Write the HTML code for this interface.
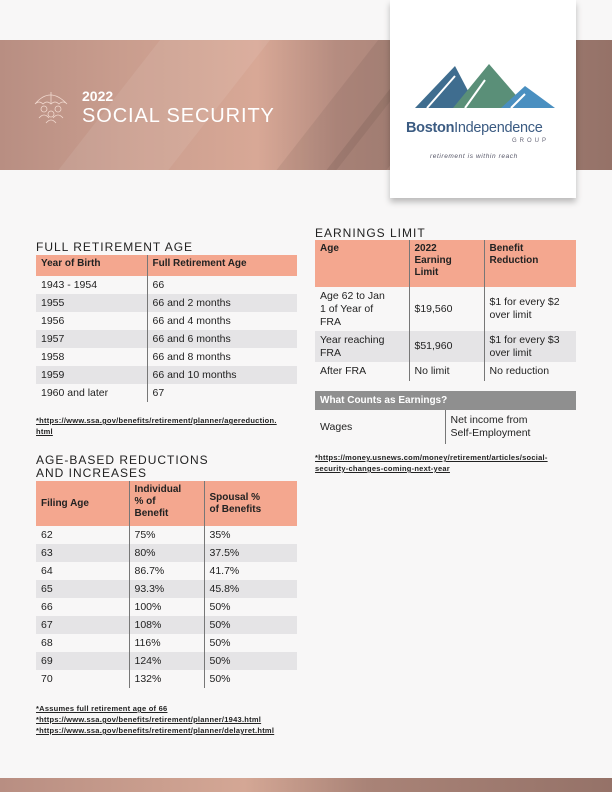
<!DOCTYPE html>
<html><head><meta charset="utf-8"><style>
*{margin:0;padding:0;box-sizing:border-box}
body{width:612px;height:792px;position:relative;overflow:hidden;background:#f8f7f7;font-family:"Liberation Sans",sans-serif;color:#222}
.band{position:absolute;left:0;top:40px;width:612px;height:130px;background:linear-gradient(90deg,#b88e82 0%,#c99d8e 20%,#d8a896 42%,#b58c80 55%,#a27f74 80%,#957268 100%);overflow:hidden}
.foot{position:absolute;left:0;top:778px;width:612px;height:14px;background:linear-gradient(90deg,#b88e82 0%,#d4a795 40%,#a98377 60%,#957268 100%)}
.ttl{position:absolute;color:#fff}
.logo{position:absolute;left:390px;top:0;width:186px;height:198px;background:#fff;box-shadow:0 4px 6px rgba(0,0,0,.25)}
h2{position:absolute;font-weight:normal;font-size:12px;letter-spacing:1px;color:#222;line-height:13px}
table{position:absolute;border-collapse:collapse;font-size:10.5px}
th{background:#f4a78f;text-align:left;font-size:10px;vertical-align:top;padding:3px 5px;line-height:12px}
td{padding:0 5px;height:18px}
td+td,th+th{border-left:1px solid #777}
tr.g td{background:#e5e4e6}
.fn{position:absolute;font-size:7.5px;font-weight:bold;letter-spacing:0.25px;line-height:11px;text-decoration:underline;color:#222}
</style></head><body>
<div class="band">
<div style="position:absolute;left:160px;top:0;width:110px;height:200px;background:rgba(255,255,255,.08);transform:skewX(-38deg);transform-origin:0 0"></div>
<div style="position:absolute;left:300px;top:0;width:60px;height:200px;background:rgba(0,0,0,.06);transform:skewX(-38deg)"></div>
<div style="position:absolute;left:350px;top:0;width:60px;height:200px;background:rgba(0,0,0,.08);transform:skewX(-38deg)"></div>
</div>
<svg style="position:absolute;left:33px;top:88px" width="36" height="36" viewBox="0 0 36 36" fill="none" stroke="#f1d9cf" stroke-width="0.8"><path d="M2 16 Q17 -2 34 16 Q30 12 26 16 Q22 12 18 16 Q14 12 10 16 Q6 12 2 16Z"/><path d="M18 4 V16"/><circle cx="11" cy="21" r="3"/><circle cx="25" cy="21" r="3"/><circle cx="18" cy="26" r="3"/><path d="M6 30 Q11 24 16 30 M20 30 Q25 24 30 30 M13 35 Q18 29 23 35"/></svg>
<div class="ttl" style="left:82px;top:88px;font-size:14px;font-weight:bold">2022</div>
<div class="ttl" style="left:82px;top:105px;font-size:20px;letter-spacing:0.9px">SOCIAL SECURITY</div>
<div class="foot"></div>
<div class="logo">
<svg style="position:absolute;left:25px;top:64px" width="140" height="46" viewBox="0 0 140 46"><polygon points="0,44 40,2 62,44" fill="#3f6d8f"/><polygon points="38,44 74,0 112,44" fill="#5a8f78"/><polygon points="86,44 110,22 140,44" fill="#4a8fc0"/><path d="M12 44 L40 12 M50 44 L70 16 M96 44 L110 30" stroke="#fff" stroke-width="2"/></svg>
<div style="position:absolute;left:16px;top:120px;font-size:14.5px;color:#3b5b82;letter-spacing:-0.3px"><b>Boston</b>Independence</div>
<div style="position:absolute;left:122px;top:138px;font-size:6px;color:#667;letter-spacing:3px">GROUP</div>
<div style="position:absolute;left:40px;top:153px;font-size:6.5px;color:#556;font-style:italic;letter-spacing:0.6px">retirement is within reach</div>
</div>

<h2 style="left:36px;top:241px">FULL RETIREMENT AGE</h2>
<table style="left:36px;top:255px;width:261px">
<tr><th style="width:111px;height:21px">Year of Birth</th><th>Full Retirement Age</th></tr>
<tr><td>1943 - 1954</td><td>66</td></tr>
<tr class="g"><td>1955</td><td>66 and 2 months</td></tr>
<tr><td>1956</td><td>66 and 4 months</td></tr>
<tr class="g"><td>1957</td><td>66 and 6 months</td></tr>
<tr><td>1958</td><td>66 and 8 months</td></tr>
<tr class="g"><td>1959</td><td>66 and 10 months</td></tr>
<tr><td>1960 and later</td><td>67</td></tr>
</table>
<div class="fn" style="left:36px;top:415px">*https://www.ssa.gov/benefits/retirement/planner/agereduction.<br>html</div>

<h2 style="left:36px;top:454px">AGE-BASED REDUCTIONS<br>AND INCREASES</h2>
<table style="left:36px;top:481px;width:261px">
<tr><th style="width:93px;height:45px;vertical-align:middle">Filing Age</th><th style="width:75px">Individual<br>% of<br>Benefit</th><th style="vertical-align:middle">Spousal %<br>of Benefits</th></tr>
<tr><td>62</td><td>75%</td><td>35%</td></tr>
<tr class="g"><td>63</td><td>80%</td><td>37.5%</td></tr>
<tr><td>64</td><td>86.7%</td><td>41.7%</td></tr>
<tr class="g"><td>65</td><td>93.3%</td><td>45.8%</td></tr>
<tr><td>66</td><td>100%</td><td>50%</td></tr>
<tr class="g"><td>67</td><td>108%</td><td>50%</td></tr>
<tr><td>68</td><td>116%</td><td>50%</td></tr>
<tr class="g"><td>69</td><td>124%</td><td>50%</td></tr>
<tr><td>70</td><td>132%</td><td>50%</td></tr>
</table>
<div class="fn" style="left:36px;top:703px">*Assumes full retirement age of 66<br>*https://www.ssa.gov/benefits/retirement/planner/1943.html<br>*https://www.ssa.gov/benefits/retirement/planner/delayret.html</div>

<h2 style="left:315px;top:227px">EARNINGS LIMIT</h2>
<table style="left:315px;top:240px;width:261px;line-height:13px">
<tr><th style="width:94px;height:47px">Age</th><th style="width:75px">2022<br>Earning<br>Limit</th><th>Benefit<br>Reduction</th></tr>
<tr><td style="height:44px">Age 62 to Jan<br>1 of Year of<br>FRA</td><td>$19,560</td><td>$1 for every $2<br>over limit</td></tr>
<tr class="g"><td style="height:31px">Year reaching<br>FRA</td><td>$51,960</td><td>$1 for every $3<br>over limit</td></tr>
<tr><td style="height:19px">After FRA</td><td>No limit</td><td>No reduction</td></tr>
</table>
<div style="position:absolute;left:315px;top:391px;width:261px;height:19px;background:#8f8f8f;color:#fff;font-weight:bold;font-size:10px;padding:4px 5px">What Counts as Earnings?</div>
<table style="left:315px;top:410px;width:261px;line-height:13px">
<tr><td style="width:130px;height:34px">Wages</td><td>Net income from<br>Self-Employment</td></tr>
</table>
<div class="fn" style="left:315px;top:452px">*https://money.usnews.com/money/retirement/articles/social-<br>security-changes-coming-next-year</div>
</body></html>
